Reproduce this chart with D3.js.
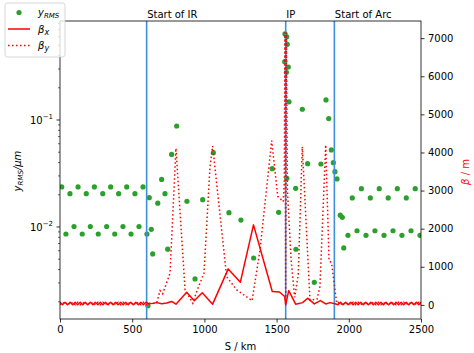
<!DOCTYPE html>
<html lang="en">
<head>
<meta charset="UTF-8">
<title>yRMS and beta along S</title>
<script src="https://cdn.jsdelivr.net/npm/d3@7"></script>
<style>
    body { margin: 0; background: #fff; }
    svg { display: block; font-family: "DejaVu Sans", sans-serif; }
</style>
</head>
<body>
<svg width="474" height="353"></svg>
<script>
    // y_RMS samples (green dots): position S in km, value in um
    const sRms = [12, 41, 69, 97, 125, 154, 182, 210, 238, 265, 296, 323, 351, 379, 406, 436, 462, 492, 519, 547, 575, 602,
        609, 618, 632, 642, 677, 704, 727, 746, 773, 808, 879, 935, 988, 1062, 1170, 1253, 1341, 1470, 1514,
        1556, 1558, 1568, 1570, 1571, 1574, 1581, 1586, 1632, 1634, 1678, 1715, 1761, 1807, 1842, 1861, 1879,
        1893, 1904, 1918, 1941, 1955, 1965,
        1994, 2024, 2057, 2087, 2119, 2149, 2181, 2211, 2244, 2273, 2306, 2336, 2368, 2398, 2431, 2460, 2493];
    const yRms = [0.0237, 0.0086, 0.0205, 0.0101, 0.0237, 0.0086, 0.0205, 0.0101, 0.0237, 0.0086, 0.0205, 0.0101,
        0.0237, 0.0086, 0.0205, 0.0101, 0.0237, 0.0086, 0.0205, 0.0101, 0.0237, 0.0086,
        0.00184, 0.0188, 0.0095, 0.0056, 0.0167, 0.0278, 0.0205, 0.0062, 0.0477, 0.0879, 0.0174, 0.00327, 0.0180,
        0.0495, 0.0136, 0.0116, 0.00513, 0.0351, 0.0137,
        0.351, 0.637, 0.279, 0.600, 0.0285, 0.510, 0.313, 0.148, 0.0230, 0.00619, 0.126, 0.0391, 0.00304, 0.0388,
        0.154, 0.103, 0.0525, 0.0399, 0.0329, 0.0281, 0.0129, 0.0123, 0.00637,
        0.00836, 0.0187, 0.00922, 0.0228, 0.00836, 0.0187, 0.00922, 0.0228, 0.00836, 0.0187, 0.00922, 0.0228,
        0.00836, 0.0187, 0.00922, 0.0228, 0.00836];

    // beta functions: S in km, beta in m
    const sBetaArc1 = [0, 17.5, 35, 52.5, 70, 87.5, 105, 122.5, 140, 157.5, 175, 192.5, 210, 227.5, 245, 262.5, 280, 297.5,
        315, 332.5, 350, 367.5, 385, 402.5, 420, 437.5, 455, 472.5, 490, 507.5, 525, 542.5, 560, 577.5, 595];
    const sBetaArc2 = [1925, 1942.5, 1960, 1977.5, 1995, 2012.5, 2030, 2047.5, 2065, 2082.5, 2100, 2117.5, 2135, 2152.5,
        2170, 2187.5, 2205, 2222.5, 2240, 2257.5, 2275, 2292.5, 2310, 2327.5, 2345, 2362.5, 2380, 2397.5, 2415,
        2432.5, 2450, 2467.5, 2485, 2500];
    const betaXArc = [70, 5, 70, 5, 70, 5, 70, 5, 70, 5, 70, 5, 70, 5, 70, 5, 70, 5,
        70, 5, 70, 5, 70, 5, 70, 5, 70, 5, 70, 5, 70, 5, 70, 5, 70];
    const betaYArc = [5, 70, 5, 70, 5, 70, 5, 70, 5, 70, 5, 70, 5, 70, 5, 70, 5, 70,
        5, 70, 5, 70, 5, 70, 5, 70, 5, 70, 5, 70, 5, 70, 5, 70, 5];
    const sBetaXIR = [615, 640, 670, 704, 740, 773, 803, 877, 930, 985, 1057, 1165, 1249, 1340, 1470, 1520, 1556,
        1563, 1584, 1632, 1680, 1715, 1761, 1803, 1840, 1870, 1905];
    const betaXIR = [30, 40, 60, 30, 50, 90, 20, 330, 110, 320, 20, 945, 596, 2100, 350, 340, 220,
        0, 375, 18, 60, 176, 26, 113, 26, 60, 30];
    const sBetaYIR = [615, 640, 670, 693, 711, 762, 803, 866, 919, 951, 997, 1039, 1057, 1154, 1224, 1330, 1385, 1466,
        1508, 1546, 1553, 1558, 1563, 1568, 1575, 1600, 1625, 1650, 1678, 1731, 1780, 1800, 1840, 1863, 1881, 1916];
    const betaYIR = [50, 30, 60, 375, 290, 830, 4110, 395, 45, 395, 830, 3630, 4170, 740, 395, 110, 1440, 4310,
        2850, 2710, 3200, 7150, 30, 7150, 3000, 1200, 200, 800, 4150, 130, 150, 480, 4200, 1180, 1090, 50];

    const markers = [{s: 600, label: "Start of IR"}, {s: 1563, label: "IP"}, {s: 1900, label: "Start of Arc"}];
    const xTicks = [0, 500, 1000, 1500, 2000, 2500];
    const betaTicks = [0, 1000, 2000, 3000, 4000, 5000, 6000, 7000];

    const mLeft = 60, mRight = 421, mTop = 21, mBottom = 319;
    const svg = d3.select("svg");

    const x = d3.scaleLinear().domain([0, 2500]).range([mLeft, mRight]);
    const yLog = d3.scaleLog().domain([0.00138, 0.842]).range([mBottom, mTop]);
    const yBeta = d3.scaleLinear().domain([-370, 7450]).range([mBottom, mTop]);

    // stitch the beta series together from arc + IR pieces
    const pairs = (ss, vals) => ss.map((s, i) => [s, vals[i]]);
    const betaX = pairs(sBetaArc1, betaXArc).concat(pairs(sBetaXIR, betaXIR), pairs(sBetaArc2, betaYArc));
    const betaY = pairs(sBetaArc1, betaYArc).concat(pairs(sBetaYIR, betaYIR), pairs(sBetaArc2, betaXArc));

    svg.append("clipPath").attr("id", "plot")
        .append("rect").attr("x", mLeft).attr("y", mTop).attr("width", mRight - mLeft).attr("height", mBottom - mTop);

    const plot = svg.append("g").attr("clip-path", "url(#plot)");

    // green dots
    plot.append("g")
        .selectAll("circle")
        .data(pairs(sRms, yRms))
        .join("circle")
        .attr("cx", d => x(d[0]))
        .attr("cy", d => yLog(d[1]))
        .attr("r", 2.6)
        .attr("fill", "#2ca02c");

    // vertical markers
    plot.append("g")
        .selectAll("line")
        .data(markers)
        .join("line")
        .attr("x1", d => x(d.s)).attr("x2", d => x(d.s))
        .attr("y1", mTop).attr("y2", mBottom)
        .attr("stroke", "#3f8fde")
        .attr("stroke-width", 1.6);

    const line = d3.line().x(d => x(d[0])).y(d => yBeta(d[1]));

    plot.append("path")
        .attr("d", line(betaY))
        .attr("fill", "none")
        .attr("stroke", "#ff0000")
        .attr("stroke-width", 1.5)
        .attr("stroke-dasharray", "1.5,2.5");

    plot.append("path")
        .attr("d", line(betaX))
        .attr("fill", "none")
        .attr("stroke", "#ff0000")
        .attr("stroke-width", 1.5)
        .attr("stroke-linejoin", "round");

    // marker labels above the frame
    svg.append("g")
        .selectAll("text")
        .data(markers)
        .join("text")
        .attr("x", d => x(d.s) + 0.5)
        .attr("y", 17.5)
        .attr("font-size", 10)
        .text(d => d.label);

    // frame
    svg.append("rect")
        .attr("x", mLeft).attr("y", mTop)
        .attr("width", mRight - mLeft).attr("height", mBottom - mTop)
        .attr("fill", "none").attr("stroke", "#000").attr("stroke-width", 0.8);

    // bottom axis
    const xAxis = svg.append("g").attr("transform", `translate(0,${mBottom})`)
        .call(d3.axisBottom(x).tickValues(xTicks).tickFormat(d3.format("d")).tickSizeOuter(0).tickSize(3.5).tickPadding(3.5));
    xAxis.select(".domain").remove();

    // right beta axis
    const rAxis = svg.append("g").attr("transform", `translate(${mRight},0)`)
        .call(d3.axisRight(yBeta).tickValues(betaTicks).tickFormat(d3.format("d")).tickSizeOuter(0).tickSize(3.5).tickPadding(3.5));
    rAxis.select(".domain").remove();

    // left log axis
    const minor = [];
    [0.001, 0.01, 0.1].forEach(dec => {
        for (let k = 2; k <= 9; k++) {
            const v = dec * k;
            if (v > yLog.domain()[0] && v < yLog.domain()[1]) minor.push(v);
        }
    });
    const lAxis = svg.append("g").attr("transform", `translate(${mLeft},0)`);
    lAxis.selectAll("line.minor")
        .data(minor)
        .join("line")
        .attr("class", "minor")
        .attr("x1", -2).attr("x2", 0)
        .attr("y1", d => yLog(d)).attr("y2", d => yLog(d))
        .attr("stroke", "#000").attr("stroke-width", 0.6);
    const majors = lAxis.selectAll("g.major")
        .data([{v: 0.1, e: "−1"}, {v: 0.01, e: "−2"}])
        .join("g")
        .attr("class", "major")
        .attr("transform", d => `translate(0,${yLog(d.v)})`);
    majors.append("line").attr("x1", -3.5).attr("x2", 0).attr("stroke", "#000").attr("stroke-width", 0.8);
    const lbl = majors.append("text")
        .attr("x", -7).attr("y", 4)
        .attr("text-anchor", "end")
        .attr("font-size", 10);
    lbl.append("tspan").text("10");
    lbl.append("tspan").attr("dy", -4.5).attr("font-size", 7).text(d => d.e);

    svg.selectAll(".tick text").attr("font-family", "DejaVu Sans").attr("font-size", 10).attr("fill", "#000");
    svg.selectAll(".tick line").attr("stroke-width", 0.8);

    // axis titles
    svg.append("text")
        .attr("x", x(1250)).attr("y", 350)
        .attr("text-anchor", "middle").attr("font-size", 10)
        .text("S / km");

    const yl = svg.append("text")
        .attr("transform", "translate(21,171) rotate(-90)")
        .attr("text-anchor", "middle").attr("font-size", 10)
        .attr("font-style", "italic");
    yl.append("tspan").text("y");
    yl.append("tspan").attr("font-size", 7).attr("dy", 2).text("RMS");
    yl.append("tspan").attr("dy", -2).text("/μm");

    const bl = svg.append("text")
        .attr("transform", "translate(469,172) rotate(-90)")
        .attr("text-anchor", "middle").attr("font-size", 10)
        .attr("fill", "#ff0000");
    bl.append("tspan").attr("font-style", "italic").text("β");
    bl.append("tspan").text(" / m");

    // legend
    const lg = svg.append("g");
    lg.append("rect")
        .attr("x", 5).attr("y", 3).attr("width", 60).attr("height", 54).attr("rx", 2.5)
        .attr("fill", "#fff").attr("fill-opacity", 0.8)
        .attr("stroke", "#ccc").attr("stroke-width", 0.8);
    lg.append("circle").attr("cx", 19).attr("cy", 12.5).attr("r", 2.6).attr("fill", "#2ca02c");
    lg.append("line").attr("x1", 8).attr("x2", 30).attr("y1", 29).attr("y2", 29)
        .attr("stroke", "#ff0000").attr("stroke-width", 1.5);
    lg.append("line").attr("x1", 8).attr("x2", 30).attr("y1", 45.5).attr("y2", 45.5)
        .attr("stroke", "#ff0000").attr("stroke-width", 1.5).attr("stroke-dasharray", "1.5,2.5");
    const legendItems = [{y: 16, base: "y", sub: "RMS", subSize: 7}, {y: 32.5, base: "β", sub: "x", subSize: 8}, {y: 49, base: "β", sub: "y", subSize: 8}];
    legendItems.forEach(d => {
        const t = lg.append("text").attr("x", 38).attr("y", d.y).attr("font-size", 10).attr("font-style", "italic");
        t.append("tspan").text(d.base);
        t.append("tspan").attr("font-size", d.subSize).attr("dy", 2).text(d.sub);
    });
</script>
</body>
</html>
